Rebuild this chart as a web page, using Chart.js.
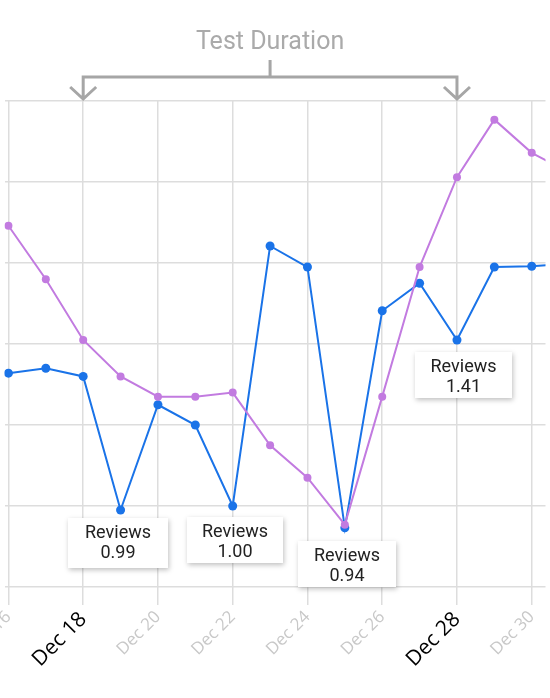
<!DOCTYPE html>
<html>
<head>
<meta charset="utf-8">
<script src="https://cdn.jsdelivr.net/npm/chart.js@4"></script>
<style>
  body { margin: 0; background: #fff; }
  #wrap { width: 550px; height: 698px; }
</style>
</head>
<body>
<div id="wrap"><canvas id="chart1"></canvas></div>
<script>
const days = [16, 17, 18, 19, 20, 21, 22, 23, 24, 25, 26, 27, 28, 29, 30, 31];
const data_blue = [2.64, 2.70, 2.60, 0.95, 2.25, 2.00, 1.00, 4.21, 3.95, 0.73, 3.41, 3.75, 3.05, 3.95, 3.96, 3.99];
const data_purple = [4.46, 3.80, 3.05, 2.60, 2.35, 2.35, 2.40, 1.75, 1.35, 0.77, 2.35, 3.95, 5.06, 5.77, 5.36, 5.12];
const highlight_days = [18, 28];
const callouts = [
  { day: 19, text: ['Reviews', '0.99'], x0: 68, y0: 518, w: 100, h: 50 },
  { day: 22, text: ['Reviews', '1.00'], x0: 187, y0: 517, w: 96, h: 46 },
  { day: 25, text: ['Reviews', '0.94'], x0: 298, y0: 541, w: 98, h: 46 },
  { day: 28, text: ['Reviews', '1.41'], x0: 415, y0: 352, w: 97, h: 46 }
];

const toPoints = arr => arr.map((v, i) => ({ x: days[i], y: v }));

// bracket + callout boxes
const overlay = {
  id: 'overlay',
  afterDatasetsDraw(chart) {
    const ctx = chart.ctx;
    const xs = chart.scales.x;
    const a = xs.getPixelForValue(highlight_days[0]);
    const b = xs.getPixelForValue(highlight_days[1]);
    const mid = (a + b) / 2;
    ctx.save();
    ctx.strokeStyle = '#a6a6a6';
    ctx.lineWidth = 3;
    ctx.beginPath();
    ctx.moveTo(a, 97); ctx.lineTo(a, 77); ctx.lineTo(b, 77); ctx.lineTo(b, 97);
    ctx.moveTo(mid, 77); ctx.lineTo(mid, 60);
    [a, b].forEach(x => {
      ctx.moveTo(x - 13, 87); ctx.lineTo(x, 99); ctx.lineTo(x + 13, 87);
    });
    ctx.stroke();
    ctx.fillStyle = '#aaaaaa';
    ctx.font = '25px Roboto';
    ctx.textAlign = 'center';
    ctx.textBaseline = 'middle';
    ctx.fillText('Test Duration', mid, 43);

    callouts.forEach(c => {
      ctx.shadowColor = 'rgba(0,0,0,0.25)';
      ctx.shadowBlur = 5;
      ctx.shadowOffsetX = 1;
      ctx.shadowOffsetY = 2;
      ctx.fillStyle = '#fff';
      ctx.fillRect(c.x0, c.y0, c.w, c.h);
      ctx.shadowColor = 'transparent';
      ctx.fillStyle = '#222';
      ctx.font = '18px Roboto';
      ctx.fillText(c.text[0], c.x0 + c.w / 2, c.y0 + 15);
      ctx.fillText(c.text[1], c.x0 + c.w / 2, c.y0 + 35);
    });
    ctx.restore();
  }
};

const config = {
  type: 'line',
  data: {
    datasets: [{
      label: 'Purple',
      data: toPoints(data_purple),
      borderColor: '#c27be0',
      backgroundColor: '#c27be0',
      borderWidth: 2,
      pointRadius: 4,
      pointBorderWidth: 0,
      tension: 0
    }, {
      label: 'Blue',
      data: toPoints(data_blue),
      borderColor: '#1a73e8',
      backgroundColor: '#1a73e8',
      borderWidth: 2,
      pointRadius: 4.5,
      pointBorderWidth: 0,
      tension: 0
    }]
  },
  options: {
    responsive: true,
    maintainAspectRatio: false,
    animation: false,
    layout: { padding: { top: 101, left: 0, right: 0, bottom: 0 } },
    plugins: { legend: { display: false }, tooltip: { enabled: false } },
    scales: {
      x: {
        type: 'linear',
        min: 16 - 4 / 38,
        max: 16 + 546 / 38,
        afterBuildTicks: s => { s.ticks = [16, 18, 20, 22, 24, 26, 28, 30].map(v => ({ value: v })); },
        afterFit: s => { s.height = 111; s.paddingLeft = 0; s.paddingRight = 0; },
        grid: { color: '#dddddd', lineWidth: 1.5, tickLength: 18 },
        border: { display: false },
        ticks: {
          maxRotation: 45,
          minRotation: 45,
          padding: 2,
          callback: v => 'Dec ' + v,
          color: c => highlight_days.includes(c.tick.value) ? '#000' : '#c8c8c8',
          font: c => ({ family: 'Open Sans', size: highlight_days.includes(c.tick && c.tick.value) ? 21 : 17 })
        }
      },
      y: {
        min: 0,
        max: 6,
        afterFit: s => { s.width = 0; s.paddingTop = 0; s.paddingBottom = 0; },
        ticks: { display: false, stepSize: 1 },
        grid: { color: '#dddddd', lineWidth: 1.5, drawTicks: false },
        border: { display: false }
      }
    }
  },
  plugins: [overlay]
};

const chart1 = new Chart(document.getElementById('chart1'), config);
</script>
</body>
</html>
